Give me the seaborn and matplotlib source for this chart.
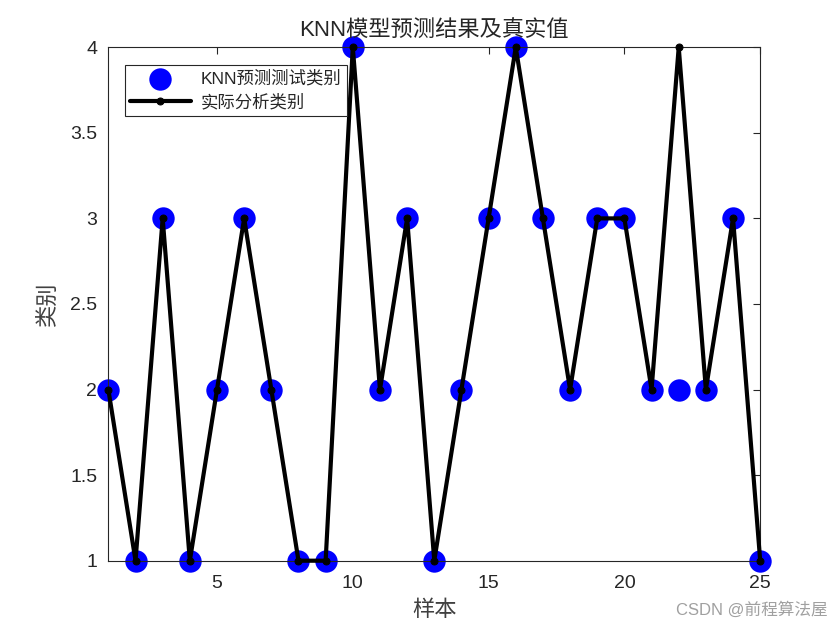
import numpy as np
import pandas as pd
import matplotlib
matplotlib.use('Agg')
import matplotlib.pyplot as plt
import seaborn as sns

# 数据
samples = list(range(1, 26))
pred = [2, 1, 3, 1, 2, 3, 2, 1, 1, 4, 2, 3, 1, 2, 3, 4, 3, 2, 3, 3, 2, 2, 2, 3, 1]
actual = [2, 1, 3, 1, 2, 3, 2, 1, 1, 4, 2, 3, 1, 2, 3, 4, 3, 2, 3, 3, 2, 4, 2, 3, 1]
yticks = [1, 1.5, 2, 2.5, 3, 3.5, 4]
xticks = [5, 10, 15, 20, 25]

df = pd.DataFrame({'样本': samples, '预测': pred, '真实': actual})

sns.set_theme(style="white")
plt.rcParams['font.family'] = ['Liberation Sans', 'Noto Sans CJK SC', 'DejaVu Sans']
plt.rcParams['axes.unicode_minus'] = False

fig = plt.figure(figsize=(8.4, 6.3), dpi=100)
ax = fig.add_axes([0.129, 0.11, 0.776, 0.815])

sns.scatterplot(data=df, x='样本', y='预测', color='#0000ff', s=260, edgecolor='#0000ff',
                linewidth=0, ax=ax, label='KNN预测测试类别', zorder=2, clip_on=False)
sns.lineplot(data=df, x='样本', y='真实', color='black', linewidth=3, marker='o',
             markersize=5, markeredgecolor='black', ax=ax, label='实际分析类别',
             zorder=3, clip_on=False)

ax.set_xlim(1, 25)
ax.set_ylim(1, 4)
ax.set_xticks(xticks)
ax.set_yticks(yticks)
ax.set_yticklabels([f'{v:g}' for v in yticks])
ax.tick_params(direction='in', length=5, width=0.8, top=True, right=True,
               labelsize=14, colors='#262626')
ax.tick_params(axis='x', pad=10)
ax.tick_params(axis='y', pad=8)
for sp in ax.spines.values():
    sp.set_color('#262626')
    sp.set_linewidth(0.8)

ax.set_xlabel('样本', fontsize=16, color='#404040', labelpad=6)
ax.set_ylabel('类别', fontsize=16, color='#404040', labelpad=8)
ax.set_title('KNN模型预测结果及真实值', fontsize=16, color='#262626', pad=8)

leg = ax.legend(loc='upper left', bbox_to_anchor=(0.025, 0.965), fontsize=12.5,
                frameon=True, fancybox=False, borderaxespad=0, handlelength=3.5,
                borderpad=0.3, labelspacing=0.4, handletextpad=0.6)
leg.get_frame().set_edgecolor('#262626')
leg.get_frame().set_linewidth(0.8)
leg.get_frame().set_alpha(1)

fig.text(0.985, 0.02, 'CSDN @前程算法屋', ha='right', va='bottom', fontsize=12, color='#a0a0a0')

plt.savefig('out.png', dpi=100)
plt.close()
